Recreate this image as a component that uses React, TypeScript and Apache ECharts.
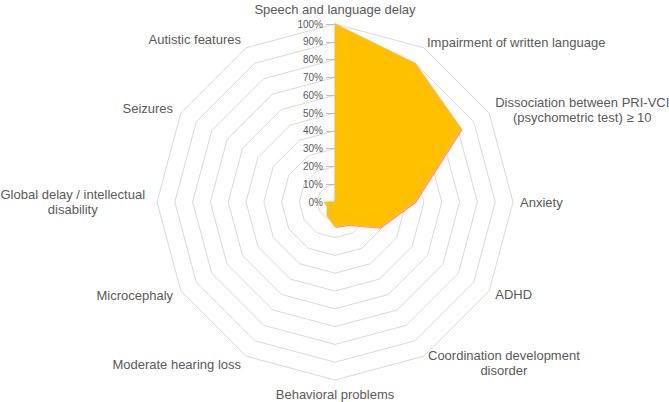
import { useEffect, useRef, type JSX } from "react";
import * as echarts from "echarts";

// categories clockwise from the top, as in the picture
const categories: string[] = [
  "Speech and language delay",
  "Impairment of written language",
  "Dissociation between PRI-VCI\n(psychometric test) ≥ 10",
  "Anxiety",
  "ADHD",
  "Coordination development\ndisorder",
  "Behavioral problems",
  "Moderate hearing loss",
  "Microcephaly",
  "Global delay / intellectual\ndisability",
  "Seizures",
  "Autistic features",
];
// percent of patients
const values: number[] = [100, 90, 82, 45, 29, 15, 14, 9, 5, 6, 0, 0];
// gap between the outer ring and each name
const nameGaps: number[] = [7, 6, 7, 7, 7, 8, 7, 10, 9, 12, 9, 10];
const tickMax = 100;
const tickStep = 10;

const textColor = "#595959";
const font = "'Liberation Sans', Arial, sans-serif";

function App(): JSX.Element {
  const chartRef = useRef<HTMLDivElement>(null);

  useEffect(() => {
    if (!chartRef.current) return;
    const chart = echarts.init(chartRef.current, null, { renderer: "svg" });

    // echarts lays indicators counter-clockwise, so keep the first and reverse the rest
    const order = [0, ...categories.map((_, i) => i).slice(1).reverse()];

    const indicator = order.map((i, k) => ({
      name: categories[i],
      min: 0,
      max: tickMax,
      nameGap: nameGaps[i],
      ...(k === 0
        ? {
            axisLine: { show: true, lineStyle: { color: "#BFBFBF", width: 1 } },
            axisTick: { show: true, length: 9, lineStyle: { color: "#BFBFBF" } },
            axisLabel: {
              show: true,
              margin: 12,
              color: textColor,
              fontSize: 10,
              fontFamily: font,
              formatter: "{value}%",
            },
          }
        : {}),
    }));

    chart.setOption({
      animation: false,
      backgroundColor: "#ffffff",
      radar: {
        center: [335, 202],
        radius: 178,
        startAngle: 90,
        shape: "polygon",
        splitNumber: tickMax / tickStep,
        axisNameGap: 7,
        axisName: {
          color: textColor,
          fontSize: 13,
          fontFamily: font,
          lineHeight: 15,
          formatter: (name: string) =>
            name
              .split("\n")
              .map((line) => `{c|${line}}`)
              .join("\n"),
          rich: {
            c: {
              align: "center",
              color: textColor,
              fontSize: 13,
              fontFamily: font,
              lineHeight: 15,
            },
          },
        },
        axisLine: { show: false },
        axisTick: { show: false },
        axisLabel: { show: false },
        splitLine: { lineStyle: { color: "#D9D9D9", width: 1 } },
        splitArea: { show: false },
        indicator,
      },
      series: [
        {
          type: "radar",
          symbol: "none",
          lineStyle: { color: "#FFC000", width: 1 },
          areaStyle: {
            color: "#FFC000",
            opacity: 1,
            shadowColor: "rgba(230, 130, 230, 0.9)",
            shadowOffsetX: 1,
            shadowOffsetY: 1,
            shadowBlur: 1,
          },
          data: [{ value: order.map((i) => values[i]) }],
        },
      ],
    });

    return () => {
      chart.dispose();
    };
  }, []);

  return (
    <div
      ref={chartRef}
      style={{ position: "absolute", left: 0, top: 0, width: "669px", height: "402px" }}
    />
  );
}

export default App;
